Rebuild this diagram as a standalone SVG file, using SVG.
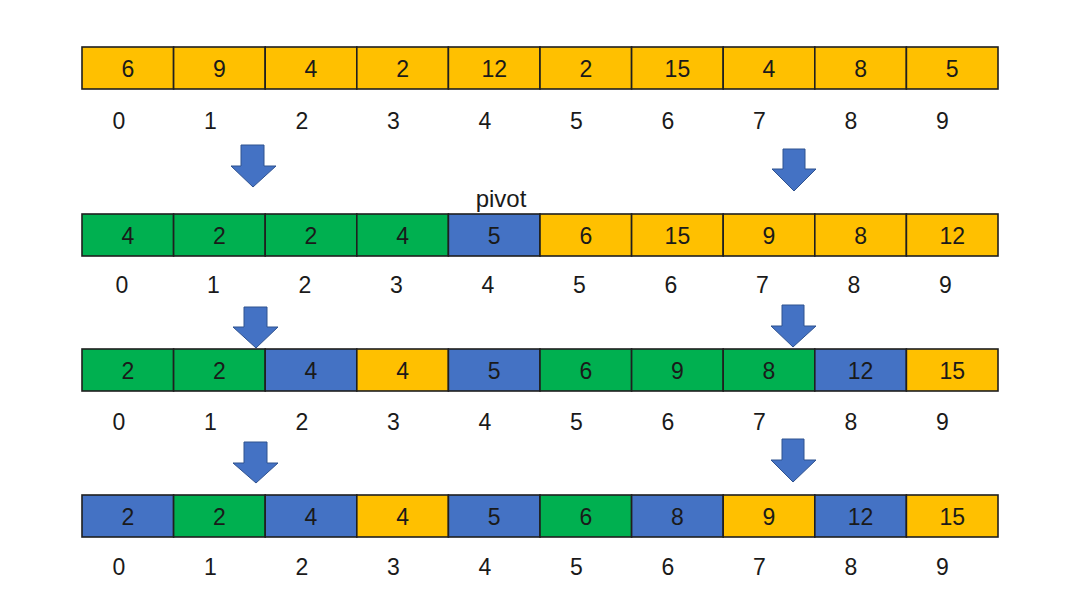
<svg xmlns="http://www.w3.org/2000/svg" width="1069" height="599" viewBox="0 0 1069 599">
<style>
.c{stroke:#1f1f1f;stroke-width:1.6}
.o{fill:#FFC000}.g{fill:#00B050}.b{fill:#4472C4}
.t{font-family:"Liberation Sans",Arial,sans-serif;font-size:23px;fill:#1a1a1a;text-anchor:middle}
.arr{fill:#4472C4;stroke:#2F528F;stroke-width:1}
</style>
<rect width="1069" height="599" fill="#fff"/>
<g id="row1">
<g id="r1c0"><rect class="c o" x="82" y="47" width="91.6" height="42"/><text class="t" x="127.8" y="77">6</text></g>
<g id="r1c1"><rect class="c o" x="173.6" y="47" width="91.6" height="42"/><text class="t" x="219.4" y="77">9</text></g>
<g id="r1c2"><rect class="c o" x="265.2" y="47" width="91.6" height="42"/><text class="t" x="311" y="77">4</text></g>
<g id="r1c3"><rect class="c o" x="356.8" y="47" width="91.6" height="42"/><text class="t" x="402.6" y="77">2</text></g>
<g id="r1c4"><rect class="c o" x="448.4" y="47" width="91.6" height="42"/><text class="t" x="494.2" y="77">12</text></g>
<g id="r1c5"><rect class="c o" x="540" y="47" width="91.6" height="42"/><text class="t" x="585.8" y="77">2</text></g>
<g id="r1c6"><rect class="c o" x="631.6" y="47" width="91.6" height="42"/><text class="t" x="677.4" y="77">15</text></g>
<g id="r1c7"><rect class="c o" x="723.2" y="47" width="91.6" height="42"/><text class="t" x="769" y="77">4</text></g>
<g id="r1c8"><rect class="c o" x="814.8" y="47" width="91.6" height="42"/><text class="t" x="860.6" y="77">8</text></g>
<g id="r1c9"><rect class="c o" x="906.4" y="47" width="91.6" height="42"/><text class="t" x="952.2" y="77">5</text></g>
</g>
<g id="idx1">
<text class="t" x="119" y="129">0</text><text class="t" x="210.5" y="129">1</text><text class="t" x="302" y="129">2</text><text class="t" x="393.5" y="129">3</text><text class="t" x="485" y="129">4</text><text class="t" x="576.5" y="129">5</text><text class="t" x="668" y="129">6</text><text class="t" x="759.5" y="129">7</text><text class="t" x="851" y="129">8</text><text class="t" x="942.5" y="129">9</text>
</g>
<g id="pivot-label"><text class="t" x="501" y="207" style="font-size:24px">pivot</text></g>
<g id="row2">
<g id="r2c0"><rect class="c g" x="82" y="214" width="91.6" height="42"/><text class="t" x="127.8" y="244">4</text></g>
<g id="r2c1"><rect class="c g" x="173.6" y="214" width="91.6" height="42"/><text class="t" x="219.4" y="244">2</text></g>
<g id="r2c2"><rect class="c g" x="265.2" y="214" width="91.6" height="42"/><text class="t" x="311" y="244">2</text></g>
<g id="r2c3"><rect class="c g" x="356.8" y="214" width="91.6" height="42"/><text class="t" x="402.6" y="244">4</text></g>
<g id="r2c4"><rect class="c b" x="448.4" y="214" width="91.6" height="42"/><text class="t" x="494.2" y="244">5</text></g>
<g id="r2c5"><rect class="c o" x="540" y="214" width="91.6" height="42"/><text class="t" x="585.8" y="244">6</text></g>
<g id="r2c6"><rect class="c o" x="631.6" y="214" width="91.6" height="42"/><text class="t" x="677.4" y="244">15</text></g>
<g id="r2c7"><rect class="c o" x="723.2" y="214" width="91.6" height="42"/><text class="t" x="769" y="244">9</text></g>
<g id="r2c8"><rect class="c o" x="814.8" y="214" width="91.6" height="42"/><text class="t" x="860.6" y="244">8</text></g>
<g id="r2c9"><rect class="c o" x="906.4" y="214" width="91.6" height="42"/><text class="t" x="952.2" y="244">12</text></g>
</g>
<g id="idx2">
<text class="t" x="122" y="293">0</text><text class="t" x="213.5" y="293">1</text><text class="t" x="305" y="293">2</text><text class="t" x="396.5" y="293">3</text><text class="t" x="488" y="293">4</text><text class="t" x="579.5" y="293">5</text><text class="t" x="671" y="293">6</text><text class="t" x="762.5" y="293">7</text><text class="t" x="854" y="293">8</text><text class="t" x="945.5" y="293">9</text>
</g>
<g id="row3">
<g id="r3c0"><rect class="c g" x="82" y="349" width="91.6" height="42"/><text class="t" x="127.8" y="379">2</text></g>
<g id="r3c1"><rect class="c g" x="173.6" y="349" width="91.6" height="42"/><text class="t" x="219.4" y="379">2</text></g>
<g id="r3c2"><rect class="c b" x="265.2" y="349" width="91.6" height="42"/><text class="t" x="311" y="379">4</text></g>
<g id="r3c3"><rect class="c o" x="356.8" y="349" width="91.6" height="42"/><text class="t" x="402.6" y="379">4</text></g>
<g id="r3c4"><rect class="c b" x="448.4" y="349" width="91.6" height="42"/><text class="t" x="494.2" y="379">5</text></g>
<g id="r3c5"><rect class="c g" x="540" y="349" width="91.6" height="42"/><text class="t" x="585.8" y="379">6</text></g>
<g id="r3c6"><rect class="c g" x="631.6" y="349" width="91.6" height="42"/><text class="t" x="677.4" y="379">9</text></g>
<g id="r3c7"><rect class="c g" x="723.2" y="349" width="91.6" height="42"/><text class="t" x="769" y="379">8</text></g>
<g id="r3c8"><rect class="c b" x="814.8" y="349" width="91.6" height="42"/><text class="t" x="860.6" y="379">12</text></g>
<g id="r3c9"><rect class="c o" x="906.4" y="349" width="91.6" height="42"/><text class="t" x="952.2" y="379">15</text></g>
</g>
<g id="idx3">
<text class="t" x="119" y="430">0</text><text class="t" x="210.5" y="430">1</text><text class="t" x="302" y="430">2</text><text class="t" x="393.5" y="430">3</text><text class="t" x="485" y="430">4</text><text class="t" x="576.5" y="430">5</text><text class="t" x="668" y="430">6</text><text class="t" x="759.5" y="430">7</text><text class="t" x="851" y="430">8</text><text class="t" x="942.5" y="430">9</text>
</g>
<g id="row4">
<g id="r4c0"><rect class="c b" x="82" y="495" width="91.6" height="42"/><text class="t" x="127.8" y="525">2</text></g>
<g id="r4c1"><rect class="c g" x="173.6" y="495" width="91.6" height="42"/><text class="t" x="219.4" y="525">2</text></g>
<g id="r4c2"><rect class="c b" x="265.2" y="495" width="91.6" height="42"/><text class="t" x="311" y="525">4</text></g>
<g id="r4c3"><rect class="c o" x="356.8" y="495" width="91.6" height="42"/><text class="t" x="402.6" y="525">4</text></g>
<g id="r4c4"><rect class="c b" x="448.4" y="495" width="91.6" height="42"/><text class="t" x="494.2" y="525">5</text></g>
<g id="r4c5"><rect class="c g" x="540" y="495" width="91.6" height="42"/><text class="t" x="585.8" y="525">6</text></g>
<g id="r4c6"><rect class="c b" x="631.6" y="495" width="91.6" height="42"/><text class="t" x="677.4" y="525">8</text></g>
<g id="r4c7"><rect class="c o" x="723.2" y="495" width="91.6" height="42"/><text class="t" x="769" y="525">9</text></g>
<g id="r4c8"><rect class="c b" x="814.8" y="495" width="91.6" height="42"/><text class="t" x="860.6" y="525">12</text></g>
<g id="r4c9"><rect class="c o" x="906.4" y="495" width="91.6" height="42"/><text class="t" x="952.2" y="525">15</text></g>
</g>
<g id="idx4">
<text class="t" x="119" y="575">0</text><text class="t" x="210.5" y="575">1</text><text class="t" x="302" y="575">2</text><text class="t" x="393.5" y="575">3</text><text class="t" x="485" y="575">4</text><text class="t" x="576.5" y="575">5</text><text class="t" x="668" y="575">6</text><text class="t" x="759.5" y="575">7</text><text class="t" x="851" y="575">8</text><text class="t" x="942.5" y="575">9</text>
</g>
<g id="connectors">
<polygon class="arr" points="241,145 264,145 264,166 276,166 253,187 231,166 241,166"/>
<polygon class="arr" points="783,149 805,149 805,169 816,169 794,191 772,169 783,169"/>
<polygon class="arr" points="244,307 267,307 267,327 278,327 256,348 233,327 244,327"/>
<polygon class="arr" points="782,305 804,305 804,326 816,326 793,347 771,326 782,326"/>
<polygon class="arr" points="244,442 267,442 267,463 278,463 256,483 233,463 244,463"/>
<polygon class="arr" points="782,439 804,439 804,460 816,460 793,482 771,460 782,460"/>
</g>
</svg>
